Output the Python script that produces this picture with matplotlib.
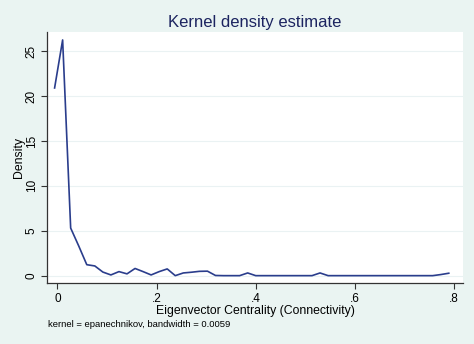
import matplotlib
matplotlib.use("Agg")
import matplotlib.pyplot as plt

# Kernel density estimate of eigenvector centrality (50 evaluation points)
centrality = [
    -0.0055, 0.0107, 0.0269, 0.0432, 0.0594, 0.0756, 0.0918, 0.1080, 0.1243, 0.1405,
    0.1567, 0.1729, 0.1891, 0.2054, 0.2216, 0.2378, 0.2540, 0.2702, 0.2865, 0.3027,
    0.3189, 0.3351, 0.3513, 0.3676, 0.3838, 0.4000, 0.4162, 0.4324, 0.4487, 0.4649,
    0.4811, 0.4973, 0.5135, 0.5297, 0.5460, 0.5622, 0.5784, 0.5946, 0.6108, 0.6271,
    0.6433, 0.6595, 0.6757, 0.6919, 0.7082, 0.7244, 0.7406, 0.7568, 0.7730, 0.7893,
]
density = [
    20.9, 26.25, 5.3, 3.3, 1.22, 1.08, 0.40, 0.08, 0.45, 0.20,
    0.80, 0.45, 0.08, 0.45, 0.75, 0.00, 0.30, 0.38, 0.48, 0.50,
    0.02, 0.00, 0.00, 0.00, 0.30, 0.00, 0.00, 0.00, 0.00, 0.00,
    0.00, 0.00, 0.00, 0.30, 0.00, 0.00, 0.00, 0.00, 0.00, 0.00,
    0.00, 0.00, 0.00, 0.00, 0.00, 0.00, 0.00, 0.00, 0.12, 0.27,
]
x_ticks = [0, 0.2, 0.4, 0.6, 0.8]
x_tick_labels = ["0", ".2", ".4", ".6", ".8"]
y_ticks = [0, 5, 10, 15, 20, 25]
y_tick_labels = ["0", "5", "10", "15", "20", "25"]

BG = "#EAF4F2"
NAVY = "#1C2460"
LINE = "#2A3D8C"
AXIS = "#333333"

plt.rcParams["font.family"] = ["Liberation Sans", "DejaVu Sans"]

fig = plt.figure(figsize=(4.74, 3.44), dpi=100, facecolor=BG)
ax = fig.add_axes([0.0998, 0.1765, 0.8763, 0.7296])
ax.set_facecolor("white")

ax.plot(centrality, density, color=LINE, linewidth=1.2, zorder=3)

ax.set_xlim(-0.0202, 0.8173)
ax.set_ylim(-0.85, 27.1)

for yv in y_ticks:
    ax.axhline(yv, color="#EAF2F3", linewidth=0.8, zorder=1)

ax.set_xticks(x_ticks)
ax.set_xticklabels(x_tick_labels)
ax.set_yticks(y_ticks)
ax.set_yticklabels(y_tick_labels, rotation=90, va="center")

for side in ("top", "right"):
    ax.spines[side].set_visible(False)
for side in ("left", "bottom"):
    ax.spines[side].set_color(AXIS)
    ax.spines[side].set_linewidth(0.9)

ax.tick_params(axis="both", direction="out", length=4, width=0.8,
               color=AXIS, labelsize=8.5, labelcolor="black", pad=3)

ax.set_xlabel("Eigenvector Centrality (Connectivity)", fontsize=8.8)
ax.set_ylabel("Density", fontsize=8.8)
ax.yaxis.set_label_coords(-0.054, 0.5)
ax.xaxis.set_label_coords(0.5, -0.086)
ax.set_title("Kernel density estimate", fontsize=12, color=NAVY, pad=3.5)

fig.text(0.101, 0.058, "kernel = epanechnikov, bandwidth = 0.0059",
         fontsize=6.8, ha="left", va="center")

fig.savefig("out.png", dpi=100, facecolor=BG)
